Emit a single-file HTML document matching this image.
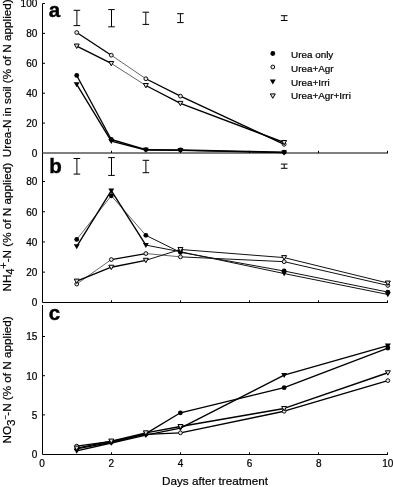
<!DOCTYPE html>
<html><head><meta charset="utf-8"><style>
html,body{margin:0;padding:0;background:#fff;}
svg{display:block;font-family:"Liberation Sans", Arial, sans-serif;}
text{stroke:#000;stroke-width:0.22px;}
</style></head><body>
<svg width="393" height="487" viewBox="0 0 393 487" fill="#000">
<line x1="42.5" y1="3.5" x2="42.5" y2="302.5" stroke="#000" stroke-width="1"/>
<line x1="42.5" y1="305" x2="42.5" y2="454.5" stroke="#000" stroke-width="1"/>
<line x1="42.5" y1="153" x2="388" y2="153" stroke="#555" stroke-width="1.6"/>
<line x1="42.5" y1="302.5" x2="388" y2="302.5" stroke="#000" stroke-width="1"/>
<line x1="42.5" y1="454.5" x2="388" y2="454.5" stroke="#000" stroke-width="1"/>
<line x1="111.5" y1="153" x2="111.5" y2="150.8" stroke="#000" stroke-width="1"/>
<line x1="111.5" y1="302.5" x2="111.5" y2="300.3" stroke="#000" stroke-width="1"/>
<line x1="111.5" y1="454.5" x2="111.5" y2="452.3" stroke="#000" stroke-width="1"/>
<line x1="180.5" y1="153" x2="180.5" y2="150.8" stroke="#000" stroke-width="1"/>
<line x1="180.5" y1="302.5" x2="180.5" y2="300.3" stroke="#000" stroke-width="1"/>
<line x1="180.5" y1="454.5" x2="180.5" y2="452.3" stroke="#000" stroke-width="1"/>
<line x1="249.5" y1="153" x2="249.5" y2="150.8" stroke="#000" stroke-width="1"/>
<line x1="249.5" y1="302.5" x2="249.5" y2="300.3" stroke="#000" stroke-width="1"/>
<line x1="249.5" y1="454.5" x2="249.5" y2="452.3" stroke="#000" stroke-width="1"/>
<line x1="318.5" y1="153" x2="318.5" y2="150.8" stroke="#000" stroke-width="1"/>
<line x1="318.5" y1="302.5" x2="318.5" y2="300.3" stroke="#000" stroke-width="1"/>
<line x1="318.5" y1="454.5" x2="318.5" y2="452.3" stroke="#000" stroke-width="1"/>
<line x1="387.5" y1="153" x2="387.5" y2="150.8" stroke="#000" stroke-width="1"/>
<line x1="387.5" y1="302.5" x2="387.5" y2="300.3" stroke="#000" stroke-width="1"/>
<line x1="387.5" y1="454.5" x2="387.5" y2="452.3" stroke="#000" stroke-width="1"/>
<line x1="42.5" y1="123.1" x2="45.0" y2="123.1" stroke="#000" stroke-width="1"/>
<line x1="42.5" y1="93.19999999999999" x2="45.0" y2="93.19999999999999" stroke="#000" stroke-width="1"/>
<line x1="42.5" y1="63.3" x2="45.0" y2="63.3" stroke="#000" stroke-width="1"/>
<line x1="42.5" y1="33.39999999999999" x2="45.0" y2="33.39999999999999" stroke="#000" stroke-width="1"/>
<line x1="42.5" y1="3.5" x2="45.0" y2="3.5" stroke="#000" stroke-width="1"/>
<line x1="42.5" y1="272.15000000000003" x2="45.0" y2="272.15000000000003" stroke="#000" stroke-width="1"/>
<line x1="42.5" y1="241.94" x2="45.0" y2="241.94" stroke="#000" stroke-width="1"/>
<line x1="42.5" y1="211.73000000000002" x2="45.0" y2="211.73000000000002" stroke="#000" stroke-width="1"/>
<line x1="42.5" y1="181.52" x2="45.0" y2="181.52" stroke="#000" stroke-width="1"/>
<line x1="42.5" y1="414.90000000000003" x2="45.0" y2="414.90000000000003" stroke="#000" stroke-width="1"/>
<line x1="42.5" y1="375.70000000000005" x2="45.0" y2="375.70000000000005" stroke="#000" stroke-width="1"/>
<line x1="42.5" y1="336.5" x2="45.0" y2="336.5" stroke="#000" stroke-width="1"/>
<text x="37.3" y="156.90" text-anchor="end" font-size="10">0</text>
<text x="37.3" y="127.00" text-anchor="end" font-size="10">20</text>
<text x="37.3" y="97.10" text-anchor="end" font-size="10">40</text>
<text x="37.3" y="67.20" text-anchor="end" font-size="10">60</text>
<text x="37.3" y="37.30" text-anchor="end" font-size="10">80</text>
<text x="37.3" y="7.40" text-anchor="end" font-size="10">100</text>
<text x="37.3" y="306.26" text-anchor="end" font-size="10">0</text>
<text x="37.3" y="276.05" text-anchor="end" font-size="10">20</text>
<text x="37.3" y="245.84" text-anchor="end" font-size="10">40</text>
<text x="37.3" y="215.63" text-anchor="end" font-size="10">60</text>
<text x="37.3" y="185.42" text-anchor="end" font-size="10">80</text>
<text x="37.3" y="458.00" text-anchor="end" font-size="10">0</text>
<text x="37.3" y="418.80" text-anchor="end" font-size="10">5</text>
<text x="37.3" y="379.60" text-anchor="end" font-size="10">10</text>
<text x="37.3" y="340.40" text-anchor="end" font-size="10">15</text>
<text x="42.15" y="467.3" text-anchor="middle" font-size="10">0</text>
<text x="111.29" y="467.3" text-anchor="middle" font-size="10">2</text>
<text x="180.43" y="467.3" text-anchor="middle" font-size="10">4</text>
<text x="249.57" y="467.3" text-anchor="middle" font-size="10">6</text>
<text x="318.71" y="467.3" text-anchor="middle" font-size="10">8</text>
<text x="387.85" y="467.3" text-anchor="middle" font-size="10">10</text>
<text x="48.8" y="16.7" font-size="20.5" font-weight="bold" style="stroke-width:0.4px">a</text>
<text x="49.2" y="172.8" font-size="20.5" font-weight="bold" style="stroke-width:0.4px">b</text>
<text x="48.7" y="319.9" font-size="20.5" font-weight="bold" style="stroke-width:0.4px">c</text>
<text x="215.0" y="484.8" text-anchor="middle" font-size="11.7">Days after treatment</text>
<text transform="translate(11.3,157.2) rotate(-90)" font-size="11.7">Urea-N in soil (% of N applied)</text>
<text transform="translate(11.3,291.5) rotate(-90)" font-size="11.7">NH<tspan font-size="10.5" dy="3.0">4</tspan><tspan font-size="11" dy="-7.4">+</tspan><tspan dy="4.4">-N (% of N applied)</tspan></text>
<text transform="translate(11.3,443.5) rotate(-90)" font-size="11.7">NO<tspan font-size="11.7" dy="3.6">3</tspan><tspan font-size="7.2" dy="-7.3">−</tspan><tspan dy="3.7" dx="-0.5">-N (% of N applied)</tspan></text>
<line x1="76.9" y1="10.3" x2="76.9" y2="25.6" stroke="#000" stroke-width="1"/>
<line x1="73.60000000000001" y1="10.3" x2="80.2" y2="10.3" stroke="#000" stroke-width="1"/>
<line x1="73.60000000000001" y1="25.6" x2="80.2" y2="25.6" stroke="#000" stroke-width="1"/>
<line x1="111.5" y1="9.6" x2="111.5" y2="26.8" stroke="#000" stroke-width="1"/>
<line x1="108.2" y1="9.6" x2="114.8" y2="9.6" stroke="#000" stroke-width="1"/>
<line x1="108.2" y1="26.8" x2="114.8" y2="26.8" stroke="#000" stroke-width="1"/>
<line x1="145.8" y1="12.2" x2="145.8" y2="24.4" stroke="#000" stroke-width="1"/>
<line x1="142.5" y1="12.2" x2="149.10000000000002" y2="12.2" stroke="#000" stroke-width="1"/>
<line x1="142.5" y1="24.4" x2="149.10000000000002" y2="24.4" stroke="#000" stroke-width="1"/>
<line x1="180.4" y1="13.7" x2="180.4" y2="22.6" stroke="#000" stroke-width="1"/>
<line x1="177.1" y1="13.7" x2="183.70000000000002" y2="13.7" stroke="#000" stroke-width="1"/>
<line x1="177.1" y1="22.6" x2="183.70000000000002" y2="22.6" stroke="#000" stroke-width="1"/>
<line x1="284.2" y1="15.7" x2="284.2" y2="20.5" stroke="#000" stroke-width="1"/>
<line x1="280.9" y1="15.7" x2="287.5" y2="15.7" stroke="#000" stroke-width="1"/>
<line x1="280.9" y1="20.5" x2="287.5" y2="20.5" stroke="#000" stroke-width="1"/>
<line x1="76.9" y1="158.5" x2="76.9" y2="174.1" stroke="#000" stroke-width="1"/>
<line x1="73.60000000000001" y1="158.5" x2="80.2" y2="158.5" stroke="#000" stroke-width="1"/>
<line x1="73.60000000000001" y1="174.1" x2="80.2" y2="174.1" stroke="#000" stroke-width="1"/>
<line x1="111.5" y1="157.6" x2="111.5" y2="175.4" stroke="#000" stroke-width="1"/>
<line x1="108.2" y1="157.6" x2="114.8" y2="157.6" stroke="#000" stroke-width="1"/>
<line x1="108.2" y1="175.4" x2="114.8" y2="175.4" stroke="#000" stroke-width="1"/>
<line x1="145.9" y1="160.3" x2="145.9" y2="172.7" stroke="#000" stroke-width="1"/>
<line x1="142.6" y1="160.3" x2="149.20000000000002" y2="160.3" stroke="#000" stroke-width="1"/>
<line x1="142.6" y1="172.7" x2="149.20000000000002" y2="172.7" stroke="#000" stroke-width="1"/>
<line x1="284.2" y1="164.1" x2="284.2" y2="168.3" stroke="#000" stroke-width="1"/>
<line x1="280.9" y1="164.1" x2="287.5" y2="164.1" stroke="#000" stroke-width="1"/>
<line x1="280.9" y1="168.3" x2="287.5" y2="168.3" stroke="#000" stroke-width="1"/>
<line x1="76.72" y1="75.45" x2="111.29" y2="139.50" stroke="#000" stroke-width="1.35"/>
<line x1="111.29" y1="139.50" x2="145.86" y2="149.55" stroke="#000" stroke-width="1.35"/>
<line x1="145.86" y1="149.55" x2="180.43" y2="150.00" stroke="#000" stroke-width="1.35"/>
<line x1="180.43" y1="150.00" x2="284.14" y2="152.25" stroke="#000" stroke-width="1.35"/>
<line x1="76.72" y1="32.55" x2="111.29" y2="55.20" stroke="#000" stroke-width="1.35"/>
<line x1="111.29" y1="55.20" x2="145.86" y2="78.75" stroke="#333" stroke-width="0.75"/>
<line x1="145.86" y1="78.75" x2="180.43" y2="96.15" stroke="#000" stroke-width="1.35"/>
<line x1="180.43" y1="96.15" x2="284.14" y2="144.30" stroke="#000" stroke-width="1.35"/>
<line x1="76.72" y1="84.45" x2="111.29" y2="141.15" stroke="#000" stroke-width="1.35"/>
<line x1="111.29" y1="141.15" x2="145.86" y2="150.00" stroke="#000" stroke-width="1.35"/>
<line x1="145.86" y1="150.00" x2="180.43" y2="150.30" stroke="#000" stroke-width="1.35"/>
<line x1="180.43" y1="150.30" x2="284.14" y2="152.70" stroke="#000" stroke-width="1.35"/>
<line x1="76.72" y1="46.05" x2="111.29" y2="63.45" stroke="#000" stroke-width="1.35"/>
<line x1="111.29" y1="63.45" x2="145.86" y2="85.50" stroke="#333" stroke-width="0.75"/>
<line x1="145.86" y1="85.50" x2="180.43" y2="103.35" stroke="#000" stroke-width="1.35"/>
<line x1="180.43" y1="103.35" x2="284.14" y2="142.50" stroke="#000" stroke-width="1.35"/>
<line x1="76.72" y1="239.39" x2="111.29" y2="195.75" stroke="#333" stroke-width="0.75"/>
<line x1="111.29" y1="195.75" x2="145.86" y2="235.33" stroke="#333" stroke-width="0.75"/>
<line x1="145.86" y1="235.33" x2="180.43" y2="252.34" stroke="#111" stroke-width="1.0"/>
<line x1="180.43" y1="252.34" x2="284.14" y2="271.00" stroke="#111" stroke-width="1.0"/>
<line x1="284.14" y1="271.00" x2="387.85" y2="292.07" stroke="#111" stroke-width="1.0"/>
<line x1="76.72" y1="284.09" x2="111.29" y2="259.56" stroke="#333" stroke-width="0.75"/>
<line x1="111.29" y1="259.56" x2="145.86" y2="253.54" stroke="#000" stroke-width="1.35"/>
<line x1="145.86" y1="253.54" x2="180.43" y2="256.85" stroke="#333" stroke-width="0.75"/>
<line x1="180.43" y1="256.85" x2="284.14" y2="261.67" stroke="#111" stroke-width="1.0"/>
<line x1="284.14" y1="261.67" x2="387.85" y2="285.44" stroke="#111" stroke-width="1.0"/>
<line x1="76.72" y1="246.47" x2="111.29" y2="190.63" stroke="#000" stroke-width="1.35"/>
<line x1="111.29" y1="190.63" x2="145.86" y2="245.11" stroke="#000" stroke-width="1.35"/>
<line x1="145.86" y1="245.11" x2="180.43" y2="251.73" stroke="#111" stroke-width="1.0"/>
<line x1="180.43" y1="251.73" x2="284.14" y2="273.56" stroke="#111" stroke-width="1.0"/>
<line x1="284.14" y1="273.56" x2="387.85" y2="294.48" stroke="#111" stroke-width="1.0"/>
<line x1="76.72" y1="281.08" x2="111.29" y2="267.23" stroke="#000" stroke-width="1.35"/>
<line x1="111.29" y1="267.23" x2="145.86" y2="260.31" stroke="#000" stroke-width="1.35"/>
<line x1="145.86" y1="260.31" x2="180.43" y2="249.48" stroke="#111" stroke-width="1.0"/>
<line x1="180.43" y1="249.48" x2="284.14" y2="257.60" stroke="#111" stroke-width="1.0"/>
<line x1="284.14" y1="257.60" x2="387.85" y2="283.04" stroke="#111" stroke-width="1.0"/>
<line x1="76.72" y1="448.90" x2="111.29" y2="442.23" stroke="#000" stroke-width="1.35"/>
<line x1="111.29" y1="442.23" x2="145.86" y2="433.59" stroke="#000" stroke-width="1.35"/>
<line x1="145.86" y1="433.59" x2="180.43" y2="412.79" stroke="#000" stroke-width="1.35"/>
<line x1="180.43" y1="412.79" x2="284.14" y2="387.67" stroke="#000" stroke-width="1.35"/>
<line x1="284.14" y1="387.67" x2="387.85" y2="348.02" stroke="#000" stroke-width="1.35"/>
<line x1="76.72" y1="446.15" x2="111.29" y2="441.44" stroke="#000" stroke-width="1.35"/>
<line x1="111.29" y1="441.44" x2="145.86" y2="434.38" stroke="#000" stroke-width="1.35"/>
<line x1="145.86" y1="434.38" x2="180.43" y2="432.81" stroke="#000" stroke-width="1.35"/>
<line x1="180.43" y1="432.81" x2="284.14" y2="411.22" stroke="#000" stroke-width="1.35"/>
<line x1="284.14" y1="411.22" x2="387.85" y2="380.60" stroke="#000" stroke-width="1.35"/>
<line x1="76.72" y1="450.86" x2="111.29" y2="443.01" stroke="#000" stroke-width="1.35"/>
<line x1="111.29" y1="443.01" x2="145.86" y2="435.16" stroke="#000" stroke-width="1.35"/>
<line x1="145.86" y1="435.16" x2="180.43" y2="428.10" stroke="#000" stroke-width="1.35"/>
<line x1="180.43" y1="428.10" x2="284.14" y2="375.11" stroke="#000" stroke-width="1.35"/>
<line x1="284.14" y1="375.11" x2="387.85" y2="345.67" stroke="#000" stroke-width="1.35"/>
<line x1="76.72" y1="448.11" x2="111.29" y2="441.05" stroke="#000" stroke-width="1.35"/>
<line x1="111.29" y1="441.05" x2="145.86" y2="432.81" stroke="#000" stroke-width="1.35"/>
<line x1="145.86" y1="432.81" x2="180.43" y2="426.52" stroke="#000" stroke-width="1.35"/>
<line x1="180.43" y1="426.52" x2="284.14" y2="408.47" stroke="#000" stroke-width="1.35"/>
<line x1="284.14" y1="408.47" x2="387.85" y2="372.75" stroke="#000" stroke-width="1.35"/>
<circle cx="76.72" cy="75.45" r="2.4" fill="#000"/>
<circle cx="111.29" cy="139.50" r="2.4" fill="#000"/>
<circle cx="145.86" cy="149.55" r="2.4" fill="#000"/>
<circle cx="180.43" cy="150.00" r="2.4" fill="#000"/>
<circle cx="284.14" cy="152.25" r="2.4" fill="#000"/>
<circle cx="76.72" cy="32.55" r="1.9" fill="#e6e6e6" stroke="#000" stroke-width="0.95"/>
<circle cx="111.29" cy="55.20" r="1.9" fill="#e6e6e6" stroke="#000" stroke-width="0.95"/>
<circle cx="145.86" cy="78.75" r="1.9" fill="#e6e6e6" stroke="#000" stroke-width="0.95"/>
<circle cx="180.43" cy="96.15" r="1.9" fill="#e6e6e6" stroke="#000" stroke-width="0.95"/>
<circle cx="284.14" cy="144.30" r="1.9" fill="#e6e6e6" stroke="#000" stroke-width="0.95"/>
<path d="M73.77 82.25H79.67L76.72 87.25Z" fill="#000"/>
<path d="M108.34 138.95H114.24L111.29 143.95Z" fill="#000"/>
<path d="M142.91 147.80H148.81L145.86 152.80Z" fill="#000"/>
<path d="M177.48 148.10H183.38L180.43 153.10Z" fill="#000"/>
<path d="M281.19 150.50H287.09L284.14 155.50Z" fill="#000"/>
<path d="M74.22 44.05H79.22L76.72 48.45Z" fill="#ddd" stroke="#000" stroke-width="1"/>
<path d="M108.79 61.45H113.79L111.29 65.85Z" fill="#ddd" stroke="#000" stroke-width="1"/>
<path d="M143.36 83.50H148.36L145.86 87.90Z" fill="#ddd" stroke="#000" stroke-width="1"/>
<path d="M177.93 101.35H182.93L180.43 105.75Z" fill="#ddd" stroke="#000" stroke-width="1"/>
<path d="M281.64 140.50H286.64L284.14 144.90Z" fill="#ddd" stroke="#000" stroke-width="1"/>
<circle cx="76.72" cy="239.39" r="2.4" fill="#000"/>
<circle cx="111.29" cy="195.75" r="2.4" fill="#000"/>
<circle cx="145.86" cy="235.33" r="2.4" fill="#000"/>
<circle cx="180.43" cy="252.34" r="2.4" fill="#000"/>
<circle cx="284.14" cy="271.00" r="2.4" fill="#000"/>
<circle cx="387.85" cy="292.07" r="2.4" fill="#000"/>
<circle cx="76.72" cy="284.09" r="1.9" fill="#e6e6e6" stroke="#000" stroke-width="0.95"/>
<circle cx="111.29" cy="259.56" r="1.9" fill="#e6e6e6" stroke="#000" stroke-width="0.95"/>
<circle cx="145.86" cy="253.54" r="1.9" fill="#e6e6e6" stroke="#000" stroke-width="0.95"/>
<circle cx="180.43" cy="256.85" r="1.9" fill="#e6e6e6" stroke="#000" stroke-width="0.95"/>
<circle cx="284.14" cy="261.67" r="1.9" fill="#e6e6e6" stroke="#000" stroke-width="0.95"/>
<circle cx="387.85" cy="285.44" r="1.9" fill="#e6e6e6" stroke="#000" stroke-width="0.95"/>
<path d="M73.77 244.27H79.67L76.72 249.27Z" fill="#000"/>
<path d="M108.34 188.43H114.24L111.29 193.43Z" fill="#000"/>
<path d="M142.91 242.91H148.81L145.86 247.91Z" fill="#000"/>
<path d="M177.48 249.53H183.38L180.43 254.53Z" fill="#000"/>
<path d="M281.19 271.36H287.09L284.14 276.36Z" fill="#000"/>
<path d="M384.90 292.28H390.80L387.85 297.28Z" fill="#000"/>
<path d="M74.22 279.08H79.22L76.72 283.48Z" fill="#ddd" stroke="#000" stroke-width="1"/>
<path d="M108.79 265.23H113.79L111.29 269.63Z" fill="#ddd" stroke="#000" stroke-width="1"/>
<path d="M143.36 258.31H148.36L145.86 262.71Z" fill="#ddd" stroke="#000" stroke-width="1"/>
<path d="M177.93 247.48H182.93L180.43 251.88Z" fill="#ddd" stroke="#000" stroke-width="1"/>
<path d="M281.64 255.60H286.64L284.14 260.00Z" fill="#ddd" stroke="#000" stroke-width="1"/>
<path d="M385.35 281.04H390.35L387.85 285.44Z" fill="#ddd" stroke="#000" stroke-width="1"/>
<circle cx="76.72" cy="448.90" r="2.4" fill="#000"/>
<circle cx="111.29" cy="442.23" r="2.4" fill="#000"/>
<circle cx="145.86" cy="433.59" r="2.4" fill="#000"/>
<circle cx="180.43" cy="412.79" r="2.4" fill="#000"/>
<circle cx="284.14" cy="387.67" r="2.4" fill="#000"/>
<circle cx="387.85" cy="348.02" r="2.4" fill="#000"/>
<circle cx="76.72" cy="446.15" r="1.9" fill="#e6e6e6" stroke="#000" stroke-width="0.95"/>
<circle cx="111.29" cy="441.44" r="1.9" fill="#e6e6e6" stroke="#000" stroke-width="0.95"/>
<circle cx="145.86" cy="434.38" r="1.9" fill="#e6e6e6" stroke="#000" stroke-width="0.95"/>
<circle cx="180.43" cy="432.81" r="1.9" fill="#e6e6e6" stroke="#000" stroke-width="0.95"/>
<circle cx="284.14" cy="411.22" r="1.9" fill="#e6e6e6" stroke="#000" stroke-width="0.95"/>
<circle cx="387.85" cy="380.60" r="1.9" fill="#e6e6e6" stroke="#000" stroke-width="0.95"/>
<path d="M73.77 448.66H79.67L76.72 453.66Z" fill="#000"/>
<path d="M108.34 440.81H114.24L111.29 445.81Z" fill="#000"/>
<path d="M142.91 432.96H148.81L145.86 437.96Z" fill="#000"/>
<path d="M177.48 425.90H183.38L180.43 430.90Z" fill="#000"/>
<path d="M281.19 372.91H287.09L284.14 377.91Z" fill="#000"/>
<path d="M384.90 343.47H390.80L387.85 348.47Z" fill="#000"/>
<path d="M74.22 446.11H79.22L76.72 450.51Z" fill="#ddd" stroke="#000" stroke-width="1"/>
<path d="M108.79 439.05H113.79L111.29 443.45Z" fill="#ddd" stroke="#000" stroke-width="1"/>
<path d="M143.36 430.81H148.36L145.86 435.20Z" fill="#ddd" stroke="#000" stroke-width="1"/>
<path d="M177.93 424.52H182.93L180.43 428.92Z" fill="#ddd" stroke="#000" stroke-width="1"/>
<path d="M281.64 406.47H286.64L284.14 410.87Z" fill="#ddd" stroke="#000" stroke-width="1"/>
<path d="M385.35 370.75H390.35L387.85 375.15Z" fill="#ddd" stroke="#000" stroke-width="1"/>
<circle cx="272.80" cy="53.50" r="2.4" fill="#000"/>
<text x="291.0" y="57.9" font-size="9.9">Urea only</text>
<circle cx="272.80" cy="67.00" r="1.9" fill="#e6e6e6" stroke="#000" stroke-width="0.95"/>
<text x="291.0" y="71.7" font-size="9.9">Urea+Agr</text>
<path d="M269.85 79.40H275.75L272.80 84.40Z" fill="#000"/>
<text x="291.0" y="85.5" font-size="9.9">Urea+Irri</text>
<path d="M270.30 93.90H275.30L272.80 98.30Z" fill="#ddd" stroke="#000" stroke-width="1"/>
<text x="291.0" y="99.3" font-size="9.9">Urea+Agr+Irri</text>
</svg>
</body></html>
